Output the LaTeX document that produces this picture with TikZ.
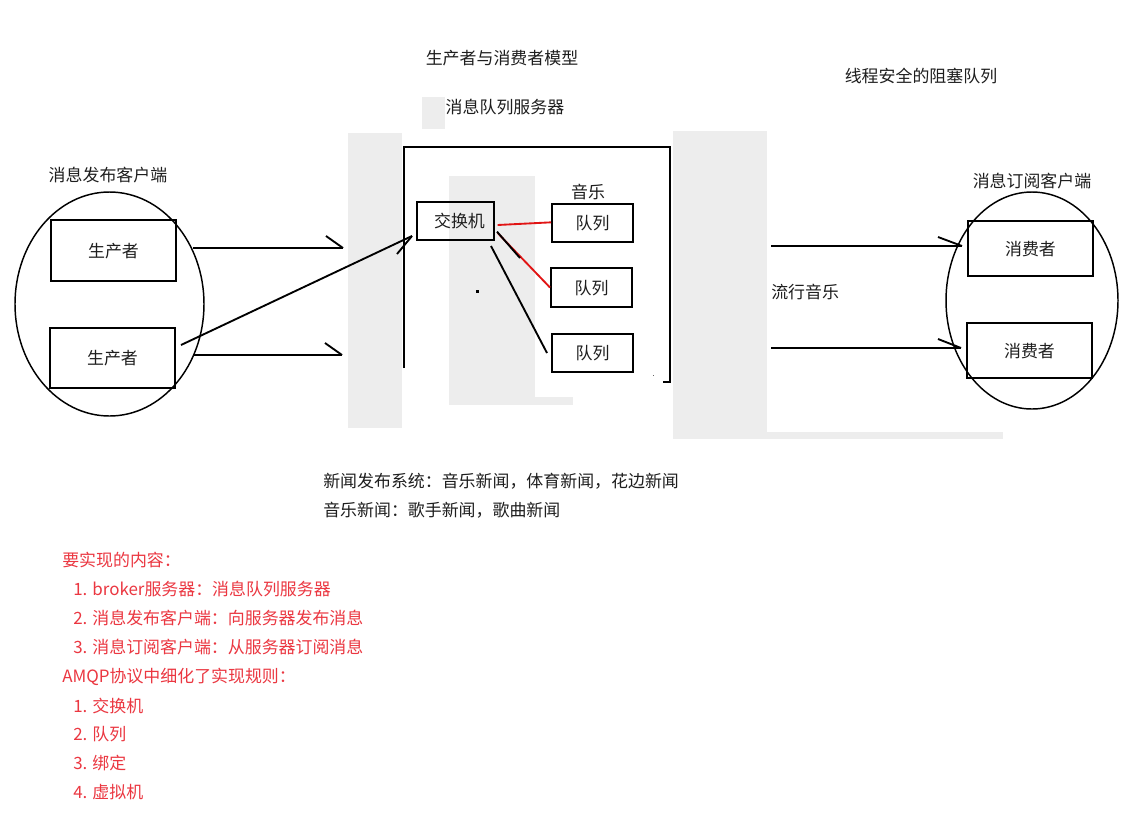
\documentclass[tikz,border=0pt]{standalone}
\usepackage{fontspec}
\setmainfont{Noto Sans CJK SC}
\usetikzlibrary{shapes.geometric}
\definecolor{bggray}{RGB}{237,237,237}
\definecolor{listred}{RGB}{235,55,65}
\definecolor{ink}{RGB}{30,30,30}
\definecolor{linkred}{RGB}{225,20,20}
\begin{document}
\begin{tikzpicture}[x=0.75pt,y=-0.75pt,
  every node/.style={font=\fontsize{12.7}{15}\selectfont, text=ink},
  box/.style={draw=black, line width=1.5pt, inner sep=0pt, text height=1.1em, text depth=0.1em},
  oval/.style={draw=black, line width=1.1pt, ellipse, inner sep=0pt},
  conn/.style={draw=black, line width=1.4pt},
  redconn/.style={draw=linkred, line width=1.4pt},
  lbl/.style={inner sep=0pt},
  note/.style={inner sep=0pt, anchor=west},
  rednote/.style={inner sep=0pt, anchor=west, text=listred},
]
\useasboundingbox (0,0) rectangle (1123,825);
\fill[white] (0,0) rectangle (1123,825);
% grey background patches
\fill[bggray] (348,133) rectangle (402,428);
\fill[bggray] (422,97) rectangle (445,129);
\fill[bggray] (449,176) rectangle (535,405);
\fill[bggray] (535,397) rectangle (573,405);
\fill[bggray] (673,131) rectangle (767,439);
\fill[bggray] (767,432) rectangle (1003,439);

% titles
\node[lbl] (title) at (502,58) {生产者与消费者模型};
\node[lbl] (bq) at (921,76) {线程安全的阻塞队列};
\node[lbl] (srvlbl) at (505,107) {消息队列服务器};
\node[lbl] (publbl) at (108,175) {消息发布客户端};
\node[lbl] (sublbl) at (1032,181) {消息订阅客户端};
\node[lbl] (music) at (588,192) {音乐};
\node[note] (pop) at (771,292) {流行音乐};

% client ellipses
\node[oval, minimum width=141.75pt, minimum height=168pt] (ellL) at (109.5,304) {};
\node[oval, minimum width=129pt, minimum height=162.75pt] (ellR) at (1032,300.5) {};

% server frame
\draw[line width=1.4pt] (404,368) -- (404,147) -- (670,147) -- (670,382) -- (663,382);

% boxes
\node[box, minimum width=93.75pt, minimum height=45.75pt] (p1) at (113.5,250.5) {生产者};
\node[box, minimum width=93.75pt, minimum height=45pt] (p2) at (112.5,358) {生产者};
\node[box, minimum width=57.75pt, minimum height=28.5pt] (ex) at (455.5,221) {\hspace{6pt}交换机};
\node[box, minimum width=60.75pt, minimum height=28.5pt] (q1) at (592.5,223) {队列};
\node[box, minimum width=60.75pt, minimum height=29.25pt] (q2) at (591.5,287.5) {队列};
\node[box, minimum width=60.75pt, minimum height=28.5pt] (q3) at (592.5,353) {队列};
\node[box, minimum width=93.75pt, minimum height=41.25pt] (c1) at (1030.5,248.5) {消费者};
\node[box, minimum width=93.75pt, minimum height=41.25pt] (c2) at (1029.5,350.5) {消费者};

% connector end points
\coordinate (s1) at (193,248);
\coordinate (t1) at (343,248);
\coordinate (s2) at (193,355);
\coordinate (t2) at (342,355);
\coordinate (s3) at (181,345);
\coordinate (t3) at (412,236);
\coordinate (s4) at (771,246);
\coordinate (t4) at (962,246);
\coordinate (s5) at (771,348);
\coordinate (t5) at (961,348);

% producer -> server
\draw[conn] (s1) -- (t1);
\draw[conn] (t1) -- ++(-17,-12);
\draw[conn] (s2) -- (t2);
\draw[conn] (t2) -- ++(-17,-12);
\draw[conn] (s3) -- (t3);
\draw[conn] (t3) -- ++(-15,18);

% server -> consumers
\draw[conn] (s4) -- (t4);
\draw[conn] (t4) -- ++(-24,-9);
\draw[conn] (s5) -- (t5);
\draw[conn] (t5) -- ++(-23,-9);

% exchange -> queues (bindings)
\draw[redconn] ([xshift=2pt,yshift=-3pt]ex.east) -- ([yshift=0.5pt]q1.west);
\draw[redconn] ([xshift=2pt,yshift=-9pt]ex.east) -- (q2.west);
\draw[conn] ([xshift=1.5pt,yshift=-8pt]ex.east) -- (520,258);
\draw[conn] (491,246) -- ([xshift=-3pt]q3.west);

% stray dots
\fill[black] (476,290) rectangle (478.5,292.5);
\fill[black!60] (652.5,374.5) rectangle (653.5,375.5);

% notes
\node[note] (news1) at (323,481) {新闻发布系统：音乐新闻，体育新闻，花边新闻};
\node[note] (news2) at (323,510) {音乐新闻：歌手新闻，歌曲新闻};

\node[rednote] (r0) at (62,560) {要实现的内容：};
\node[rednote] (r1) at (73,589) {1. broker服务器：消息队列服务器};
\node[rednote] (r2) at (73,618) {2. 消息发布客户端：向服务器发布消息};
\node[rednote] (r3) at (73,647) {3. 消息订阅客户端：从服务器订阅消息};
\node[rednote] (r4) at (62,677) {AMQP协议中细化了实现规则：};
\node[rednote] (r5) at (73,706) {1. 交换机};
\node[rednote] (r6) at (73,734) {2. 队列};
\node[rednote] (r7) at (73,763) {3. 绑定};
\node[rednote] (r8) at (73,792) {4. 虚拟机};
\end{tikzpicture}
\end{document}
